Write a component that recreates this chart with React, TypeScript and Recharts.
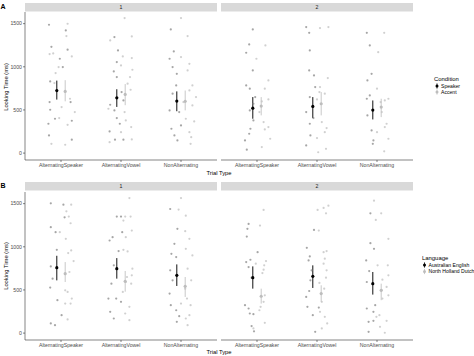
import { ErrorBar, Scatter, ScatterChart, XAxis, YAxis } from "recharts";

const CATEGORIES = ["AlternatingSpeaker", "AlternatingVowel", "NonAlternating"];
const Y_TICKS = [0, 500, 1000, 1500];

// each point: [category index, jitter, looking time ms]
type Pt = [number, number, number];
// each mean: [mean, lower, upper]
type Ci = [number, number, number];

const A1_SPEAKER: Pt[] = [
  [0, -0.2, 1487], [0, 0.08, 1422], [0, -0.16, 1232], [0, 0.11, 1198], [0, -0.02, 1093], [0, 0.03, 997],
  [0, -0.18, 831], [0, -0.19, 591], [0, 0.16, 591], [0, -0.18, 502], [0, -0.1, 398], [0, 0.18, 375],
  [0, -0.21, 340], [0, -0.2, 205], [0, 0.18, 155],
  [1, -0.11, 1344], [1, -0.05, 1190], [1, -0.07, 1055], [1, -0.12, 946], [1, -0.07, 881], [1, 0.01, 707],
  [1, -0.18, 560], [1, 0.04, 610], [1, -0.11, 494], [1, -0.07, 406], [1, -0.02, 340], [1, -0.19, 251],
  [1, -0.1, 155], [1, 0.04, 155],
  [2, -0.17, 1433], [2, -0.12, 1178], [2, -0.19, 1093], [2, -0.14, 997], [2, -0.07, 919], [2, -0.08, 784],
  [2, -0.14, 688], [2, -0.19, 494], [2, -0.03, 475], [2, -0.16, 282], [2, 0, 321], [2, -0.06, 147], [2, -0.11, 205],
];
const A1_ACCENT: Pt[] = [
  [0, 0.11, 1499], [0, 0.09, 1356], [0, -0.19, 1147], [0, -0.13, 1155], [0, 0.18, 1120], [0, -0.04, 997],
  [0, -0.09, 927], [0, -0.11, 811], [0, 0.15, 630], [0, 0.01, 533], [0, -0.03, 406], [0, 0.11, 328],
  [0, -0.16, 108], [0, 0.07, 97], [0, 0.23, 475],
  [1, 0.06, 1565], [1, 0.18, 1352], [1, -0.18, 1306], [1, 0.03, 1120], [1, 0.18, 1101], [1, 0, 1016],
  [1, 0.19, 966], [1, 0.15, 881], [1, 0.11, 804], [1, 0.16, 734], [1, -0.21, 514], [1, 0.06, 475],
  [1, 0.08, 379], [1, 0.17, 301], [1, 0, 243], [1, 0.18, 158], [1, -0.19, 127],
  [2, 0, 1565], [2, 0.11, 1356], [2, 0, 1113], [2, 0.14, 1035], [2, 0.11, 958], [2, 0.19, 784],
  [2, 0.14, 726], [2, 0.25, 649], [2, 0.04, 591], [2, 0.19, 552], [2, 0.08, 398], [2, 0.22, 367],
  [2, 0.14, 243], [2, 0.17, 185], [2, 0.16, 108],
];
const A2_SPEAKER: Pt[] = [
  [0, -0.07, 1433], [0, -0.13, 1259], [0, -0.18, 1163], [0, -0.07, 958], [0, -0.18, 784], [0, -0.12, 746],
  [0, -0.03, 649], [0, -0.06, 572], [0, -0.12, 494], [0, -0.06, 379], [0, -0.11, 282], [0, -0.13, 224],
  [0, -0.2, 147], [0, -0.17, 40],
  [1, -0.13, 1394], [1, -0.18, 1460], [1, -0.12, 1190], [1, -0.13, 958], [1, -0.05, 900], [1, -0.03, 765],
  [1, -0.12, 649], [1, -0.18, 475], [1, -0.06, 406], [1, -0.12, 340], [1, -0.11, 205], [1, -0.18, 89],
  [2, -0.17, 1394], [2, -0.12, 1248], [2, -0.09, 919], [2, -0.16, 842], [2, -0.12, 668], [2, -0.17, 630],
  [2, -0.16, 437], [2, -0.09, 263], [2, -0.06, 147], [2, -0.07, 108],
];
const A2_ACCENT: Pt[] = [
  [0, 0.14, 1248], [0, -0.01, 1093], [0, 0.19, 842], [0, 0.13, 746], [0, 0.19, 622], [0, 0.08, 599],
  [0, 0.04, 475], [0, 0.11, 359], [0, 0.19, 301], [0, 0.13, 274], [0, 0.08, 70], [0, 0.22, 166],
  [1, 0.05, 1449], [1, 0.19, 1460], [1, 0.18, 869], [1, 0.05, 765], [1, 0.04, 707], [1, 0.13, 688],
  [1, 0, 622], [1, 0.08, 359], [1, 0.16, 290], [1, 0, 174], [1, 0.13, 243], [1, 0.02, 10], [1, 0.15, 50],
  [2, 0.12, 1394], [2, 0.02, 1170], [2, 0, 746], [2, 0.13, 610], [2, 0.19, 630], [2, 0.06, 591],
  [2, 0.08, 475], [2, 0.16, 340], [2, 0, 243], [2, 0.13, 301], [2, 0.19, 166], [2, 0.12, 20],
];
const B1_ENGLISH: Pt[] = [
  [0, -0.17, 1504], [0, 0.04, 1488], [0, 0.06, 1342], [0, -0.17, 1227], [0, -0.09, 1169], [0, -0.07, 965],
  [0, -0.17, 773], [0, -0.14, 631], [0, -0.18, 527], [0, -0.06, 381], [0, 0.01, 208], [0, -0.17, 112], [0, -0.1, 92],
  [1, -0.07, 1350], [1, 0, 1350], [1, -0.14, 1111], [1, 0.02, 1169], [1, -0.19, 1073], [1, -0.04, 950],
  [1, -0.12, 785], [1, -0.16, 573], [1, -0.21, 400], [1, -0.08, 400], [1, -0.18, 246], [1, -0.12, 169], [1, 0, 362],
  [2, -0.18, 1438], [2, -0.06, 1208], [2, -0.11, 1035], [2, -0.16, 919], [2, -0.08, 881], [2, -0.18, 727],
  [2, -0.14, 612], [2, -0.19, 458], [2, -0.17, 323], [2, -0.08, 265], [2, -0.07, 131], [2, -0.03, 196],
];
const B1_DUTCH: Pt[] = [
  [0, 0.17, 1488], [0, 0.09, 1411], [0, 0.13, 1350], [0, 0.16, 1273], [0, -0.02, 1169], [0, 0.08, 1092],
  [0, 0.17, 958], [0, 0.12, 927], [0, 0.21, 835], [0, 0.14, 708], [0, 0.07, 496], [0, 0.11, 477],
  [0, 0.18, 400], [0, 0.16, 342], [0, 0.07, 342], [0, 0.11, 158],
  [1, 0.14, 1565], [1, 0.07, 1350], [1, 0.16, 1350], [1, 0.04, 1304], [1, 0.08, 1111], [1, 0.18, 1188],
  [1, 0.04, 965], [1, 0.11, 946], [1, 0.19, 746], [1, 0.18, 669], [1, 0.1, 650], [1, 0.08, 592],
  [1, 0.17, 573], [1, 0.03, 477], [1, 0.14, 304], [1, 0.07, 227], [1, 0.14, 150],
  [2, 0, 1565], [2, -0.04, 1431], [2, 0.08, 1361], [2, 0.07, 1181], [2, 0.14, 1092], [2, 0.08, 977],
  [2, 0.19, 900], [2, 0.11, 746], [2, 0.17, 612], [2, 0.07, 515], [2, 0.1, 400], [2, 0, 342],
  [2, 0.16, 323], [2, 0.14, 208], [2, 0.08, 169], [2, 0.11, 92],
];
const B2_ENGLISH: Pt[] = [
  [0, -0.14, 1265], [0, -0.16, 1208], [0, -0.17, 1119], [0, 0.01, 938], [0, -0.18, 823], [0, -0.11, 850],
  [0, -0.14, 765], [0, -0.09, 642], [0, -0.2, 323], [0, -0.14, 285], [0, -0.12, 227], [0, -0.06, 219],
  [0, -0.09, 81], [0, -0.05, 20],
  [1, -0.05, 1196], [1, -0.17, 988], [1, -0.12, 888], [1, -0.14, 842], [1, -0.09, 727], [1, -0.11, 612],
  [1, -0.13, 488], [1, -0.18, 419], [1, -0.16, 304], [1, -0.07, 208], [1, -0.03, 15], [1, 0.03, 296],
  [2, -0.11, 1388], [2, -0.11, 1042], [2, -0.05, 977], [2, -0.18, 842], [2, -0.13, 719], [2, -0.17, 592],
  [2, -0.03, 323], [2, -0.17, 285], [2, -0.06, 246], [2, -0.06, 142], [2, -0.14, 131], [2, -0.14, 15],
];
const B2_DUTCH: Pt[] = [
  [0, 0.11, 1427], [0, 0.05, 1246], [0, -0.02, 804], [0, 0.15, 835], [0, 0.12, 785], [0, 0.11, 735],
  [0, 0.09, 696], [0, 0.13, 438], [0, 0.11, 362], [0, 0.06, 304], [0, 0.13, 119], [0, 0.04, 265], [0, -0.06, 54],
  [1, 0.01, 1427], [1, 0.11, 1450], [1, 0.15, 1388], [1, 0.19, 1477], [1, 0.03, 1188], [1, 0.11, 938],
  [1, 0.16, 950], [1, 0.13, 862], [1, 0.11, 804], [1, 0.16, 727], [1, 0.15, 642], [1, 0.04, 581],
  [1, 0.12, 515], [1, 0.08, 362], [1, 0.05, 246], [1, 0.13, 188], [1, 0.08, 54], [1, 0.17, 112],
  [2, -0.05, 1535], [2, 0.07, 1388], [2, -0.02, 1311], [2, 0.19, 1092], [2, 0.01, 785], [2, 0.18, 785],
  [2, 0.19, 669], [2, 0.09, 619], [2, 0.16, 535], [2, 0.08, 496], [2, 0.19, 438], [2, 0.09, 400],
  [2, 0.04, 208], [2, -0.01, 188], [2, 0.16, 142], [2, 0.05, 73], [2, 0.13, 4],
];

const A1_SPEAKER_CI: Ci[] = [[725, 620, 840], [640, 535, 740], [603, 485, 715]];
const A1_ACCENT_CI: Ci[] = [[715, 600, 845], [680, 555, 800], [600, 495, 725]];
const A2_SPEAKER_CI: Ci[] = [[521, 398, 649], [541, 406, 649], [498, 390, 610]];
const A2_ACCENT_CI: Ci[] = [[545, 437, 649], [572, 437, 707], [533, 417, 630]];
const B1_ENGLISH_CI: Ci[] = [[758, 611, 896], [746, 631, 869], [669, 546, 796]];
const B1_DUTCH_CI: Ci[] = [[688, 592, 823], [600, 480, 720], [542, 419, 650]];
const B2_ENGLISH_CI: Ci[] = [[642, 515, 773], [658, 523, 785], [573, 446, 708]];
const B2_DUTCH_CI: Ci[] = [[427, 342, 515], [458, 362, 554], [496, 381, 573]];

const FONT = "'Liberation Sans', Arial, sans-serif";
const DARK_PT = "#808080";
const LIGHT_PT = "#c4c4c4";
const DODGE = 0.07;

const toPts = (pts: Pt[]) => pts.map(([c, j, ms]) => ({ x: c + 1 + j, y: ms }));
const toMeans = (ci: Ci[], shift: number) =>
  ci.map(([m, lo, hi], i) => ({ x: i + 1 + shift, y: m, err: [m - lo, hi - m] }));

const dot = (r: number, fill: string, opacity = 1) => (p: any) =>
  <circle cx={p.cx} cy={p.cy} r={r} fill={fill} fillOpacity={opacity} />;

type FacetProps = {
  left: number;
  top: number;
  showY: boolean;
  dark: Pt[];
  light: Pt[];
  darkCi: Ci[];
  lightCi: Ci[];
};

function Facet({ left, top, showY, dark, light, darkCi, lightCi }: FacetProps) {
  const axisStroke = { stroke: "#333", strokeWidth: 0.6 };
  return (
    <div style={{ position: "absolute", left, top }}>
      <ScatterChart width={showY ? 217 : 192} height={160} margin={{ top: 0, right: 0, bottom: 0, left: 0 }}>
        <XAxis
          type="number"
          dataKey="x"
          domain={[0.4, 3.6]}
          ticks={[1, 2, 3]}
          interval={0}
          allowDataOverflow
          tickFormatter={(v: number) => CATEGORIES[Math.round(v) - 1]}
          tick={{ fontSize: 5.2, fill: "#4d4d4d", fontFamily: FONT }}
          tickSize={2}
          tickMargin={1}
          axisLine={axisStroke}
          tickLine={axisStroke}
          height={12}
        />
        <YAxis
          type="number"
          dataKey="y"
          domain={[-80, 1635]}
          ticks={Y_TICKS}
          allowDataOverflow
          hide={!showY}
          width={25}
          tick={{ fontSize: 5.2, fill: "#4d4d4d", fontFamily: FONT }}
          tickSize={2}
          tickMargin={1}
          axisLine={axisStroke}
          tickLine={axisStroke}
        />
        <Scatter data={toPts(light)} shape={dot(1.1, LIGHT_PT, 0.8)} isAnimationActive={false} />
        <Scatter data={toPts(dark)} shape={dot(1.1, DARK_PT, 0.7)} isAnimationActive={false} />
        <Scatter data={toMeans(darkCi, -DODGE)} shape={dot(1.6, "#000")} isAnimationActive={false}>
          <ErrorBar dataKey="err" direction="y" width={0} stroke="#111" strokeWidth={1} isAnimationActive={false} />
        </Scatter>
        <Scatter data={toMeans(lightCi, DODGE)} shape={dot(1.6, "#bdbdbd")} isAnimationActive={false}>
          <ErrorBar dataKey="err" direction="y" width={0} stroke="#c8c8c8" strokeWidth={1} isAnimationActive={false} />
        </Scatter>
      </ScatterChart>
    </div>
  );
}

function LegendKey({ x, y, color, label }: { x: number; y: number; color: string; label: string }) {
  return (
    <g>
      <line x1={x} x2={x} y1={y - 2.6} y2={y + 2.6} stroke={color} strokeWidth={0.8} />
      <circle cx={x} cy={y} r={1.5} fill={color} />
      <text x={x + 4} y={y + 1.8} fontSize={5.1} fill="#000">{label}</text>
    </g>
  );
}

function Row({ top, label }: { top: number; label: string }) {
  return (
    <g>
      <text x={0.5} y={top + 6} fontSize={7} fontWeight="bold">{label}</text>
      <rect x={25} y={top} width={192} height={8.5} fill="#d9d9d9" />
      <rect x={221} y={top} width={192} height={8.5} fill="#d9d9d9" />
      <text x={121} y={top + 6.2} fontSize={5.2} textAnchor="middle" fill="#1a1a1a">1</text>
      <text x={317} y={top + 6.2} fontSize={5.2} textAnchor="middle" fill="#1a1a1a">2</text>
      <text
        x={7.5}
        y={top + 84}
        fontSize={5.8}
        textAnchor="middle"
        transform={`rotate(-90 7.5 ${top + 84})`}
      >
        Looking Time (ms)
      </text>
      <text x={219} y={top + 171.5} fontSize={5.8} textAnchor="middle">Trial Type</text>
    </g>
  );
}

export default function App() {
  return (
    <div style={{ position: "absolute", left: 0, top: 0, width: 474, height: 356, background: "#fff", fontFamily: FONT }}>
      <svg width={474} height={356} style={{ position: "absolute", left: 0, top: 0 }} fontFamily={FONT}>
        <Row top={3} label="A" />
        <Row top={182} label="B" />
        <text x={434} y={81} fontSize={5.9}>Condition</text>
        <LegendKey x={437} y={86} color="#000" label="Speaker" />
        <LegendKey x={437} y={92} color="#bdbdbd" label="Accent" />
        <text x={422} y={260} fontSize={5.9}>Language</text>
        <LegendKey x={424.5} y={265} color="#000" label="Australian English" />
        <LegendKey x={424.5} y={271.5} color="#bdbdbd" label="North Holland Dutch" />
      </svg>
      <Facet left={0} top={12} showY dark={A1_SPEAKER} light={A1_ACCENT} darkCi={A1_SPEAKER_CI} lightCi={A1_ACCENT_CI} />
      <Facet left={221} top={12} showY={false} dark={A2_SPEAKER} light={A2_ACCENT} darkCi={A2_SPEAKER_CI} lightCi={A2_ACCENT_CI} />
      <Facet left={0} top={192} showY dark={B1_ENGLISH} light={B1_DUTCH} darkCi={B1_ENGLISH_CI} lightCi={B1_DUTCH_CI} />
      <Facet left={221} top={192} showY={false} dark={B2_ENGLISH} light={B2_DUTCH} darkCi={B2_ENGLISH_CI} lightCi={B2_DUTCH_CI} />
    </div>
  );
}
